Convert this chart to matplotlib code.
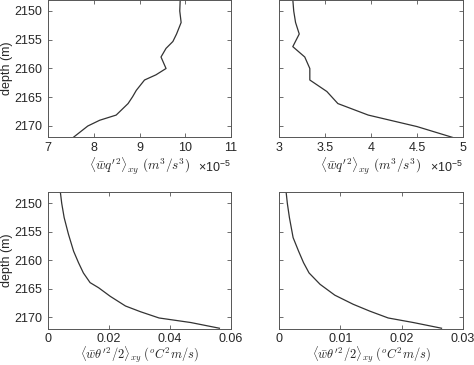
import numpy as np
from matplotlib import pyplot as plt

plt.rcParams['font.family'] = ['Liberation Sans', 'DejaVu Sans']
plt.rcParams['mathtext.fontset'] = 'cm'

# depth profiles (m)
depth_q = [2148, 2150, 2152, 2154, 2155.3, 2156.5, 2158, 2160, 2161.1, 2162,
           2163.8, 2164.9, 2166.1, 2168.1, 2169, 2170, 2172]
wq_left = [9.89, 9.88, 9.91, 9.81, 9.73, 9.58, 9.47, 9.58, 9.36, 9.11,
           8.93, 8.85, 8.75, 8.49, 8.13, 7.87, 7.55]  # x1e-5

depth_q2 = [2148, 2150, 2152, 2154, 2156.2, 2158, 2160, 2162, 2164, 2166.1,
            2168.1, 2170.1, 2172]
wq_right = [3.15, 3.16, 3.18, 3.22, 3.15, 3.28, 3.335, 3.335, 3.52, 3.64,
            3.97, 4.50, 4.89]  # x1e-5

depth_t = [2147.8, 2150, 2152.5, 2155.4, 2158.4, 2160.4, 2162.2, 2163.9,
           2164.8, 2166.3, 2168, 2169, 2170.1, 2170.9, 2171.9]
wt_left = [0.0040, 0.0045, 0.0053, 0.0067, 0.0084, 0.0100, 0.0116, 0.0138,
           0.0166, 0.0204, 0.0254, 0.0303, 0.0364, 0.0468, 0.0562]

depth_t2 = [2147.8, 2150, 2152.5, 2156, 2158.4, 2160.4, 2162.2, 2164.2,
            2166.1, 2167.7, 2168.9, 2170.1, 2170.9, 2171.9]
wt_right = [0.00114, 0.00136, 0.0017, 0.0023, 0.0032, 0.0040, 0.0049, 0.0067,
            0.0091, 0.0121, 0.0148, 0.0178, 0.0219, 0.0265]

W, H = 474, 365
fig = plt.figure(figsize=(W / 100, H / 100), dpi=100)


def make_ax(x0, y_top, w, h):
    return fig.add_axes([x0 / W, (H - y_top - h) / H, w / W, h / H])


box_col = '#555555'
txt_col = '#262626'
line_col = '#333333'


def style(ax, xlim, xticks, show_y, xpad=3.5):
    ax.set_ylim(2172, 2148)
    ax.set_xlim(*xlim)
    ax.set_xticks(xticks)
    ax.set_yticks([2150, 2155, 2160, 2165, 2170])
    ax.tick_params(direction='in', length=3, width=0.6, top=True, right=True,
                   colors=box_col, labelcolor=txt_col, labelsize=9, pad=4)
    ax.tick_params(axis='x', pad=xpad)
    if not show_y:
        ax.set_yticklabels([])
    for s in ax.spines.values():
        s.set_color(box_col)
        s.set_linewidth(0.7)


q_label = r"$\langle \bar{w} q'^2 \rangle_{xy}\ (m^3/s^3)$"
t_label = r"$\langle \bar{w} \theta'^2/2 \rangle_{xy}\ (^oC^2 m/s)$"
exp_label = r'$\mathregular{\times10^{-5}}$'

ax1 = make_ax(48, -0.5, 183, 138)
ax1.plot(wq_left, depth_q, color=line_col, lw=0.9)
style(ax1, (7, 11), [7, 8, 9, 10, 11], True)
ax1.set_xticklabels(['7', '8', '9', '10', '11'])
ax1.set_xlabel(q_label, fontsize=9.5, color=txt_col, labelpad=1)
ax1.set_ylabel('depth (m)', fontsize=9, color=txt_col, labelpad=1)
ax1.text(1.0, -0.215, exp_label, transform=ax1.transAxes,
         ha='right', va='center', fontsize=9, color=txt_col)

ax2 = make_ax(279, -0.5, 184, 138)
ax2.plot(wq_right, depth_q2, color=line_col, lw=0.9)
style(ax2, (3, 5), [3, 3.5, 4, 4.5, 5], False)
ax2.set_xticklabels(['3', '3.5', '4', '4.5', '5'])
ax2.set_xlabel(q_label, fontsize=9.5, color=txt_col, labelpad=1)
ax2.text(1.0, -0.215, exp_label, transform=ax2.transAxes,
         ha='right', va='center', fontsize=9, color=txt_col)

ax3 = make_ax(48, 192, 183, 136.8)
ax3.plot(wt_left, depth_t, color=line_col, lw=0.9)
style(ax3, (0, 0.06), [0, 0.02, 0.04, 0.06], True, xpad=3)
ax3.set_xticklabels(['0', '0.02', '0.04', '0.06'])
ax3.set_xlabel(t_label, fontsize=9, color=txt_col, labelpad=-0.5)
ax3.set_ylabel('depth (m)', fontsize=9, color=txt_col, labelpad=1)

ax4 = make_ax(279, 192, 184, 136.8)
ax4.plot(wt_right, depth_t2, color=line_col, lw=0.9)
style(ax4, (0, 0.03), [0, 0.01, 0.02, 0.03], False, xpad=3)
ax4.set_xticklabels(['0', '0.01', '0.02', '0.03'])
ax4.set_xlabel(t_label, fontsize=9, color=txt_col, labelpad=-0.5)

fig.savefig('out.png', dpi=100)
